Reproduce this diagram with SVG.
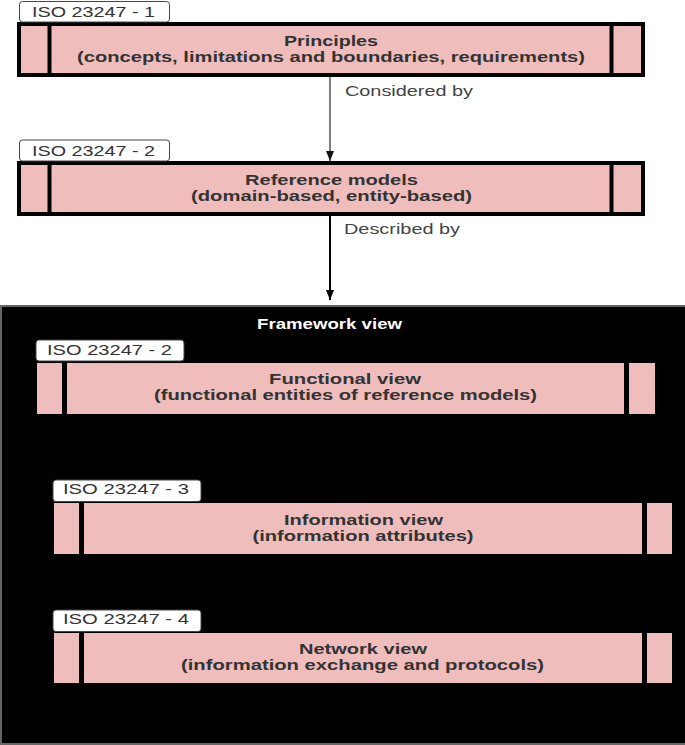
<svg xmlns="http://www.w3.org/2000/svg" width="685" height="745" viewBox="0 0 685 745">
  <defs>
    <marker id="arrowGray" markerWidth="10" markerHeight="8" refX="10" refY="4" orient="auto" markerUnits="userSpaceOnUse">
      <path d="M0,0 L10,4 L0,8 Z" fill="#111"/>
    </marker>
    <marker id="arrowBlack" markerWidth="10" markerHeight="8" refX="10" refY="4" orient="auto" markerUnits="userSpaceOnUse">
      <path d="M0,0 L10,4 L0,8 Z" fill="#000"/>
    </marker>
  </defs>
  <style>
    .pink { fill: #f0bdbd; }
    .outer { fill: #f0bdbd; stroke: #000; stroke-width: 4; }
    .div { stroke: #000; stroke-width: 4; }
    .tag { fill: #fff; stroke: #444; stroke-width: 1; }
    .tagtxt { font-family: "Liberation Sans", Arial, sans-serif; font-size: 15px; fill: #333; }
    .main { font-family: "Liberation Sans", Arial, sans-serif; font-size: 14px; font-weight: bold; fill: #333; text-anchor: middle; }
    .lbl { font-family: "Liberation Sans", Arial, sans-serif; font-size: 14px; fill: #444; }
    .fw { font-family: "Liberation Sans", Arial, sans-serif; font-size: 14px; font-weight: bold; fill: #fff; text-anchor: middle; }
  </style>
  <rect x="0" y="0" width="685" height="745" fill="#fff"/>

  <!-- Framework panel -->
  <g id="framework">
    <rect x="1" y="306" width="690" height="438" fill="#000" stroke="#666" stroke-width="2"/>
    <text class="fw" x="329.5" y="329" textLength="145" lengthAdjust="spacingAndGlyphs">Framework view</text>
  </g>

  <!-- Principles -->
  <g id="principles">
    <rect class="outer" x="19" y="24" width="624" height="51"/>
    <line class="div" x1="49.5" y1="24" x2="49.5" y2="75"/>
    <line class="div" x1="611.5" y1="24" x2="611.5" y2="75"/>
    <rect class="tag" x="19.5" y="1.5" width="150" height="20.5" rx="3"/>
    <text class="tagtxt" x="32" y="17" textLength="123" lengthAdjust="spacingAndGlyphs">ISO 23247 - 1</text>
    <text class="main" x="331" y="46" textLength="94" lengthAdjust="spacingAndGlyphs">Principles</text>
    <text class="main" x="331" y="62" textLength="508" lengthAdjust="spacingAndGlyphs">(concepts, limitations and boundaries, requirements)</text>
  </g>

  <!-- Reference models -->
  <g id="reference">
    <rect class="outer" x="19" y="163" width="624" height="51"/>
    <line class="div" x1="49.5" y1="163" x2="49.5" y2="214"/>
    <line class="div" x1="611.5" y1="163" x2="611.5" y2="214"/>
    <rect class="tag" x="19.5" y="140" width="150" height="21" rx="3"/>
    <text class="tagtxt" x="32" y="156" textLength="123" lengthAdjust="spacingAndGlyphs">ISO 23247 - 2</text>
    <text class="main" x="331.5" y="185" textLength="173" lengthAdjust="spacingAndGlyphs">Reference models</text>
    <text class="main" x="331.5" y="201" textLength="281" lengthAdjust="spacingAndGlyphs">(domain-based, entity-based)</text>
  </g>

  <!-- Functional view -->
  <g id="functional">
    <rect class="pink" x="37" y="363" width="25" height="51"/>
    <rect class="pink" x="67" y="363" width="557" height="51"/>
    <rect class="pink" x="629" y="363" width="26" height="51"/>
    <rect class="tag" x="36" y="340" width="148" height="21" rx="3"/>
    <text class="tagtxt" x="47" y="355" textLength="125" lengthAdjust="spacingAndGlyphs">ISO 23247 - 2</text>
    <text class="main" x="345" y="384" textLength="152" lengthAdjust="spacingAndGlyphs">Functional view</text>
    <text class="main" x="345.5" y="400" textLength="383" lengthAdjust="spacingAndGlyphs">(functional entities of reference models)</text>
  </g>

  <!-- Information view -->
  <g id="information">
    <rect class="pink" x="54" y="503" width="25" height="51"/>
    <rect class="pink" x="84" y="503" width="558" height="51"/>
    <rect class="pink" x="647" y="503" width="25" height="51"/>
    <rect class="tag" x="53" y="480" width="148" height="21.5" rx="3"/>
    <text class="tagtxt" x="63" y="494" textLength="126" lengthAdjust="spacingAndGlyphs">ISO 23247 - 3</text>
    <text class="main" x="363.5" y="525" textLength="159" lengthAdjust="spacingAndGlyphs">Information view</text>
    <text class="main" x="363" y="541" textLength="221" lengthAdjust="spacingAndGlyphs">(information attributes)</text>
  </g>

  <!-- Network view -->
  <g id="network">
    <rect class="pink" x="54" y="633" width="25" height="50"/>
    <rect class="pink" x="84" y="633" width="558" height="50"/>
    <rect class="pink" x="647" y="633" width="25" height="50"/>
    <rect class="tag" x="53" y="610" width="148" height="21.5" rx="3"/>
    <text class="tagtxt" x="63" y="624" textLength="126" lengthAdjust="spacingAndGlyphs">ISO 23247 - 4</text>
    <text class="main" x="363" y="654" textLength="128" lengthAdjust="spacingAndGlyphs">Network view</text>
    <text class="main" x="362.5" y="670" textLength="363" lengthAdjust="spacingAndGlyphs">(information exchange and protocols)</text>
  </g>

  <!-- Connectors -->
  <g id="connectors">
    <line x1="330" y1="77" x2="330" y2="161" stroke="#808080" stroke-width="2" marker-end="url(#arrowGray)"/>
    <text class="lbl" x="345" y="96" textLength="128" lengthAdjust="spacingAndGlyphs">Considered by</text>
    <line x1="330" y1="216" x2="330" y2="300" stroke="#000" stroke-width="2" marker-end="url(#arrowBlack)"/>
    <text class="lbl" x="344" y="234" textLength="116" lengthAdjust="spacingAndGlyphs">Described by</text>
  </g>
</svg>
